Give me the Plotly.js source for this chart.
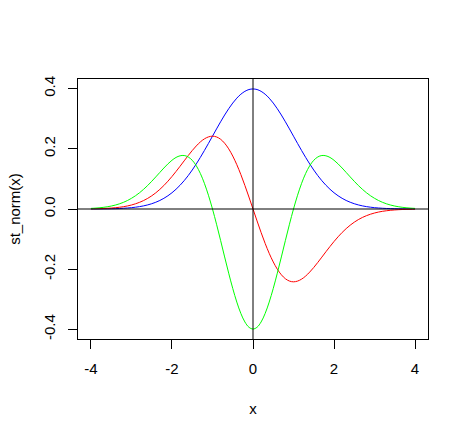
<!DOCTYPE html>
<html>
<head>
<meta charset="utf-8">
<script src="https://cdn.plot.ly/plotly-3.0.1.min.js"></script>
<style>html,body{margin:0;padding:0;background:#fff;}#chart{width:468px;height:438px;}</style>
</head>
<body>
<div id="chart"></div>
<script>
// x grid
const xVals = [-4.0,-3.9,-3.8,-3.7,-3.6,-3.5,-3.4,-3.3,-3.2,-3.1,-3.0,-2.9,-2.8,-2.7,-2.6,-2.5,-2.4,-2.3,-2.2,-2.1,-2.0,-1.9,-1.8,-1.7,-1.6,-1.5,-1.4,-1.3,-1.2,-1.1,-1.0,-0.9,-0.8,-0.7,-0.6,-0.5,-0.4,-0.3,-0.2,-0.1,0.0,0.1,0.2,0.3,0.4,0.5,0.6,0.7,0.8,0.9,1.0,1.1,1.2,1.3,1.4,1.5,1.6,1.7,1.8,1.9,2.0,2.1,2.2,2.3,2.4,2.5,2.6,2.7,2.8,2.9,3.0,3.1,3.2,3.3,3.4,3.5,3.6,3.7,3.8,3.9,4.0];
// blue curve (density)
const blueVals = [0.0001,0.0002,0.0003,0.0004,0.0006,0.0009,0.0012,0.0017,0.0024,0.0033,0.0044,0.0060,0.0079,0.0104,0.0136,0.0175,0.0224,0.0283,0.0355,0.0440,0.0540,0.0656,0.0790,0.0940,0.1109,0.1295,0.1497,0.1714,0.1942,0.2179,0.2420,0.2661,0.2897,0.3123,0.3332,0.3521,0.3683,0.3814,0.3910,0.3970,0.3989,0.3970,0.3910,0.3814,0.3683,0.3521,0.3332,0.3123,0.2897,0.2661,0.2420,0.2179,0.1942,0.1714,0.1497,0.1295,0.1109,0.0940,0.0790,0.0656,0.0540,0.0440,0.0355,0.0283,0.0224,0.0175,0.0136,0.0104,0.0079,0.0060,0.0044,0.0033,0.0024,0.0017,0.0012,0.0009,0.0006,0.0004,0.0003,0.0002,0.0001];
// red curve
const redVals = [0.0005,0.0008,0.0011,0.0016,0.0022,0.0031,0.0042,0.0057,0.0076,0.0101,0.0133,0.0173,0.0222,0.0281,0.0353,0.0438,0.0537,0.0652,0.0780,0.0924,0.1080,0.1247,0.1421,0.1599,0.1775,0.1943,0.2096,0.2228,0.2330,0.2396,0.2420,0.2395,0.2318,0.2186,0.1999,0.1760,0.1473,0.1144,0.0782,0.0397,0.0,-0.0397,-0.0782,-0.1144,-0.1473,-0.1760,-0.1999,-0.2186,-0.2318,-0.2395,-0.2420,-0.2396,-0.2330,-0.2228,-0.2096,-0.1943,-0.1775,-0.1599,-0.1421,-0.1247,-0.1080,-0.0924,-0.0780,-0.0652,-0.0537,-0.0438,-0.0353,-0.0281,-0.0222,-0.0173,-0.0133,-0.0101,-0.0076,-0.0057,-0.0042,-0.0031,-0.0022,-0.0016,-0.0011,-0.0008,-0.0005];
// green curve
const greenVals = [0.0020,0.0028,0.0039,0.0054,0.0073,0.0098,0.0130,0.0170,0.0220,0.0281,0.0355,0.0441,0.0541,0.0655,0.0782,0.0920,0.1066,0.1215,0.1362,0.1500,0.1620,0.1713,0.1768,0.1778,0.1730,0.1619,0.1437,0.1182,0.0854,0.0457,0.0,-0.0506,-0.1043,-0.1593,-0.2133,-0.2640,-0.3093,-0.3471,-0.3754,-0.3930,-0.3989,-0.3930,-0.3754,-0.3471,-0.3093,-0.2640,-0.2133,-0.1593,-0.1043,-0.0506,0.0,0.0457,0.0854,0.1182,0.1437,0.1619,0.1730,0.1778,0.1768,0.1713,0.1620,0.1500,0.1362,0.1215,0.1066,0.0920,0.0782,0.0655,0.0541,0.0441,0.0355,0.0281,0.0220,0.0170,0.0130,0.0098,0.0073,0.0054,0.0039,0.0028,0.0020];

const xTicks = [-4,-2,0,2,4];
const xTickText = ["-4","-2","0","2","4"];
const yTicks = [-0.4,-0.2,0.0,0.2,0.4];
const yTickText = ["-0.4","-0.2","0.0","0.2","0.4"];

const font = {family: "Liberation Sans, Arial, sans-serif", size: 15, color: "#000"};

const traces = [
  {x: xVals, y: blueVals, type: "scatter", mode: "lines", line: {color: "#0000FF", width: 1, shape: "spline"}, hoverinfo: "none"},
  {x: xVals, y: redVals, type: "scatter", mode: "lines", line: {color: "#FF0000", width: 1, shape: "spline"}, hoverinfo: "none"},
  {x: xVals, y: greenVals, type: "scatter", mode: "lines", line: {color: "#00FF00", width: 1, shape: "spline"}, hoverinfo: "none"}
];

const layout = {
  width: 468, height: 438,
  margin: {l: 78, r: 40, t: 79, b: 99},
  paper_bgcolor: "#fff", plot_bgcolor: "#fff",
  showlegend: false,
  font: font,
  xaxis: {
    range: [-4.32, 4.32], showgrid: false, zeroline: false,
    showline: true, mirror: true, linecolor: "#000", linewidth: 1,
    ticks: "outside", ticklen: 9, tickcolor: "#000", tickwidth: 1,
    ticklabelstandoff: 7,
    tickvals: xTicks, ticktext: xTickText, tickfont: font,
    title: {text: "x", font: font, standoff: 27}
  },
  yaxis: {
    range: [-0.432, 0.432], showgrid: false, zeroline: false,
    showline: true, mirror: true, linecolor: "#000", linewidth: 1,
    ticks: "outside", ticklen: 9, tickcolor: "#000", tickwidth: 1,
    ticklabelstandoff: 7,
    tickvals: yTicks, ticktext: yTickText, tickangle: -90, tickfont: font,
    title: {text: "st_norm(x)", font: font, standoff: 16}
  },
  shapes: [
    {type: "line", xref: "x", yref: "paper", x0: 0, x1: 0, y0: 0, y1: 1, line: {color: "#000", width: 1}},
    {type: "line", xref: "paper", yref: "y", x0: 0, x1: 1, y0: 0, y1: 0, line: {color: "#000", width: 1}}
  ]
};

Plotly.newPlot("chart", traces, layout, {staticPlot: true, displayModeBar: false});
</script>
</body>
</html>
